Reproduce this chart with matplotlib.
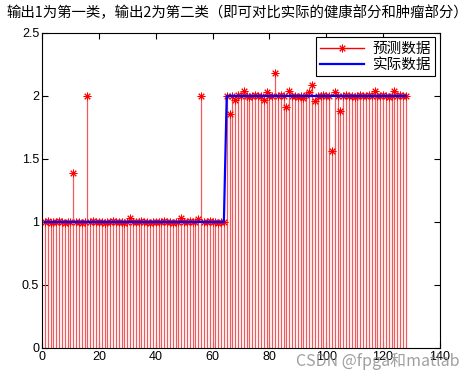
import numpy as np
import matplotlib
matplotlib.use("Agg")
import matplotlib.pyplot as plt
from matplotlib.lines import Line2D
from matplotlib.legend_handler import HandlerLine2D

# ---- data ----
pred_class1 = [1.00, 1.01, 0.99, 1.00, 1.00, 1.01, 1.00, 0.99, 1.00, 1.00,
               1.39, 1.00, 1.00, 0.99, 1.00, 2.00, 1.00, 1.01, 1.00, 1.00,
               1.00, 0.99, 1.00, 1.00, 1.01, 1.00, 1.00, 1.00, 0.99, 1.00,
               1.03, 1.00, 1.00, 1.00, 1.01, 1.00, 1.00, 0.99, 1.00, 1.00,
               1.00, 1.00, 1.01, 1.00, 1.00, 0.99, 1.00, 1.00, 1.03, 1.00,
               1.00, 1.01, 1.00, 1.00, 1.02, 2.00, 1.00, 1.00, 1.01, 1.00,
               1.00, 0.99, 1.00, 1.00]
pred_class2 = [2.00, 1.86, 2.00, 1.97, 2.01, 2.00, 2.04, 2.00, 1.99, 2.00,
               2.01, 2.00, 2.00, 1.97, 2.03, 2.00, 2.00, 2.18, 2.00, 2.01,
               2.00, 1.91, 2.04, 2.00, 2.00, 1.99, 2.00, 1.98, 2.01, 2.03,
               2.09, 1.96, 2.00, 2.00, 2.01, 2.00, 2.00, 1.56, 2.03, 2.00,
               1.88, 2.00, 2.01, 2.00, 2.00, 1.99, 2.00, 2.01, 2.00, 2.00,
               2.01, 2.00, 2.04, 2.00, 2.00, 2.01, 2.00, 1.99, 2.00, 2.04,
               2.00, 2.01, 2.00, 2.00]
actual_class1 = [1] * 64
actual_class2 = [2] * 64
predicted = pred_class1 + pred_class2
actual = actual_class1 + actual_class2
sample_idx = list(range(1, len(predicted) + 1))

xticks = [0, 20, 40, 60, 80, 100, 120, 140]
yticks = [0, 0.5, 1, 1.5, 2, 2.5]
ytick_labels = ["0", "0.5", "1", "1.5", "2", "2.5"]
title = "输出1为第一类，输出2为第二类（即可对比实际的健康部分和肿瘤部分）"
legend_labels = ["预测数据", "实际数据"]

plt.rcParams['font.family'] = ['Noto Sans CJK SC', 'DejaVu Sans']

fig = plt.figure(figsize=(4.74, 3.79), dpi=100)
ax = fig.add_axes([0.0886, 0.0818, 0.8394, 0.8312])

stem_color = '#f05a5a'
ast = (8, 2, 0)
ax.vlines(sample_idx, 0, predicted, colors=stem_color, linewidth=0.9)
ax.plot(sample_idx, predicted, linestyle='none', marker=ast, markersize=5.5,
        color='red', markeredgewidth=0.7)
ax.plot(sample_idx, actual, color='blue', linewidth=1.6)

ax.set_xlim(0, 140)
ax.set_ylim(0, 2.5)
ax.set_xticks(xticks)
ax.set_xticklabels([str(t) for t in xticks], family='Liberation Sans', fontsize=9)
ax.set_yticks(yticks)
ax.set_yticklabels(ytick_labels, family='Liberation Sans', fontsize=9)
ax.tick_params(direction='in', top=True, right=True, length=4, width=0.8, pad=2)
for s in ax.spines.values():
    s.set_linewidth(0.8)

fig.suptitle(title, x=0.5, y=0.985, va='top', fontsize=10.4)


class EndMarkerHandler(HandlerLine2D):
    def get_xdata(self, legend, xdescent, ydescent, width, height, fontsize):
        xdata, xm = super().get_xdata(legend, xdescent, ydescent, width, height, fontsize)
        return xdata, np.array([xdata[-1]])


h1 = Line2D([], [], color='red', linewidth=1.0, marker=ast, markersize=5.5, markeredgewidth=0.7)
h2 = Line2D([], [], color='blue', linewidth=1.6)
leg = ax.legend([h1, h2], legend_labels, loc='upper right', fontsize=10.5,
                handler_map={h1: EndMarkerHandler(numpoints=1)},
                fancybox=False, framealpha=1, edgecolor='black',
                borderpad=0.3, labelspacing=0.15, handlelength=3.0,
                handletextpad=0.6, borderaxespad=0.3)
leg.get_frame().set_linewidth(0.8)

fig.text(0.97, 0.025, "CSDN @fpga和matlab", ha='right', va='bottom',
         fontsize=11.5, color='#888888', alpha=0.8)

fig.savefig("out.png", dpi=100)
